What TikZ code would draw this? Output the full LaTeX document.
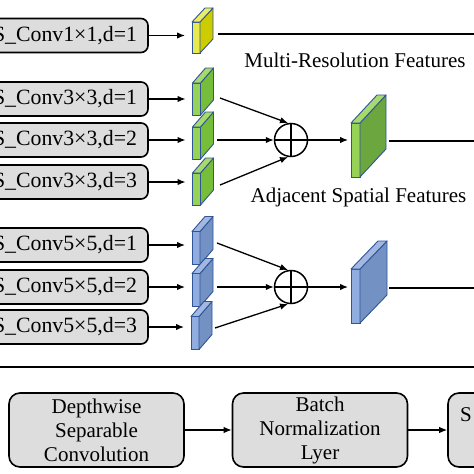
\documentclass[tikz,border=0pt]{standalone}
\usepackage{fontspec}
\setmainfont{Liberation Serif}
\usetikzlibrary{arrows.meta,calc}

\definecolor{boxgray}{RGB}{221,221,221}
\definecolor{fborder}{RGB}{47,85,151}
\definecolor{ylwside}{RGB}{204,204,0}
\definecolor{ylwfront}{RGB}{232,232,80}
\definecolor{grnside}{RGB}{118,190,58}
\definecolor{grnfront}{RGB}{150,210,85}
\definecolor{grnbigside}{RGB}{108,166,62}
\definecolor{bluside}{RGB}{116,145,196}
\definecolor{blufront}{RGB}{145,172,222}

\tikzset{
  convbox/.style={draw, line width=1.6pt, rounded corners=7pt, fill=boxgray,
    minimum width=166pt, minimum height=34pt, inner sep=0pt,
    font=\fontsize{21.8}{24}\selectfont},
  stagebox/.style={draw, line width=1.6pt, rounded corners=11pt, fill=boxgray,
    minimum width=175pt, minimum height=74pt, inner sep=0pt, align=center,
    font=\fontsize{21}{24}\selectfont},
  fface/.style={draw=fborder, line width=0.9pt, inner sep=0pt, outer sep=0pt},
  fedge/.style={draw=fborder, line width=0.9pt, line join=round},
  flow/.style={line width=1.3pt, -{Latex[length=8pt,width=6.5pt]}},
  plainline/.style={line width=1.3pt},
  sumnode/.style={circle, draw, line width=1.5pt, minimum size=33pt, inner sep=0pt,
    path picture={\draw[line width=1.5pt]
      (path picture bounding box.north) -- (path picture bounding box.south)
      (path picture bounding box.west) -- (path picture bounding box.east);}},
  caption/.style={font=\fontsize{21}{24}\selectfont, inner sep=0pt, anchor=base},
}

% feature slab: #1 name, #2 x, #3 y, #4 width, #5 height, #6 dx, #7 dy,
% #8 side colour, #9 front colour
\newcommand\featslab[9]{%
  \node[fface, fill=#9, minimum width=#4pt, minimum height=#5pt] (#1) at (#2,#3) {};
  \draw[fedge, fill=#8] (#1.north east) -- ++(#6,#7) -- ++(0,#5) -- (#1.south east) -- cycle;
  \draw[fedge, fill=#9!85!white] (#1.north west) -- ++(#6,#7) -- ++(#4,0) -- (#1.north east) -- cycle;
}

\begin{document}
\begin{tikzpicture}[x=1pt,y=-1pt]
\useasboundingbox (0,0) rectangle (474,474);
\clip (0,0) rectangle (474,474);

% convolution branches
\node[convbox] (c1) at (65,35.5) {S\_Conv1×1,d=1};
\node[convbox] (c2) at (65,99)   {S\_Conv3×3,d=1};
\node[convbox] (c3) at (65,140)  {S\_Conv3×3,d=2};
\node[convbox] (c4) at (65,182)  {S\_Conv3×3,d=3};
\node[convbox] (c5) at (65,245)  {S\_Conv5×5,d=1};
\node[convbox] (c6) at (65,287)  {S\_Conv5×5,d=2};
\node[convbox] (c7) at (65,327)  {S\_Conv5×5,d=3};

% feature maps
\featslab{y1}{196}{37.5}{8}{31}{13}{-14}{ylwside}{ylwfront}
\featslab{g1}{196.5}{99}{8}{32}{13}{-15}{grnside}{grnfront}
\featslab{g2}{196.5}{143}{8}{32}{13}{-15}{grnside}{grnfront}
\featslab{g3}{196.5}{189}{8}{32}{13}{-15}{grnside}{grnfront}
\featslab{b1}{196}{248}{8}{33}{13}{-15}{bluside}{blufront}
\featslab{b2}{196}{290}{8}{33}{13}{-15}{bluside}{blufront}
\featslab{b3}{195}{333}{8}{33}{13}{-15}{bluside}{blufront}
\featslab{G}{355.5}{150}{9}{54}{26}{-28}{grnbigside}{grnfront}
\featslab{B}{355.5}{296}{9}{54}{27}{-28}{bluside}{blufront}

% branch arrows
\foreach \c/\f in {c1/y1,c2/g1,c3/g2,c4/g3,c5/b1,c6/b2,c7/b3}
  \draw[flow, shorten >=7pt] (\c.east) -- (\c.east -| \f.west);

% fusion nodes
\node[sumnode] (s1) at (291,140) {};
\node[sumnode] (s2) at (291,287) {};

\coordinate (g1o) at (220,98);
\coordinate (g2o) at (217,140);
\coordinate (g3o) at (220,185);
\coordinate (b1o) at (217,243);
\coordinate (b2o) at (217,287);
\coordinate (b3o) at (215,328);
\draw[flow] (g1o) -- (s1.100);
\draw[flow] (g2o) -- (s1.west);
\draw[flow] (g3o) -- (s1.260);
\draw[flow] (b1o) -- (s2.100);
\draw[flow] (b2o) -- (s2.west);
\draw[flow] (b3o) -- (s2.260);

\draw[flow, shorten >=3pt] (s1.east) -- (s1.east -| G.west);
\draw[flow, shorten >=3pt] (s2.east) -- (s2.east -| B.west);

% outputs running to the right
\coordinate (y1o) at (218,34);
\coordinate (y1e) at (474,34);
\coordinate (Go) at (389,141);
\coordinate (Ge) at (474,141);
\coordinate (Bo) at (389,288);
\coordinate (Be) at (474,288);
\draw[plainline] (y1o) -- (y1e);
\draw[plainline] (Go) -- (Ge);
\draw[plainline] (Bo) -- (Be);

% labels
\node[caption] (mrf) at (355,67) {Multi-Resolution Features};
\node[caption] (asf) at (358.5,202) {Adjacent Spatial Features};

% separator
\coordinate (sepL) at (0,367);
\coordinate (sepR) at (474,367);
\draw[line width=2pt] (sepL) -- (sepR);

% block structure
\node[stagebox] (dsc) at (96.5,430) {Depthwise\\Separable\\Convolution};
\node[stagebox] (bn) at (320,430) {Batch\\Normalization\\Lyer};
\node[stagebox, align=left, text width=151pt, inner xsep=12pt] (act) at (535.5,430) {S\\\strut};
\draw[flow] (dsc) -- (bn);
\draw[flow] (bn) -- (act);
\end{tikzpicture}
\end{document}
